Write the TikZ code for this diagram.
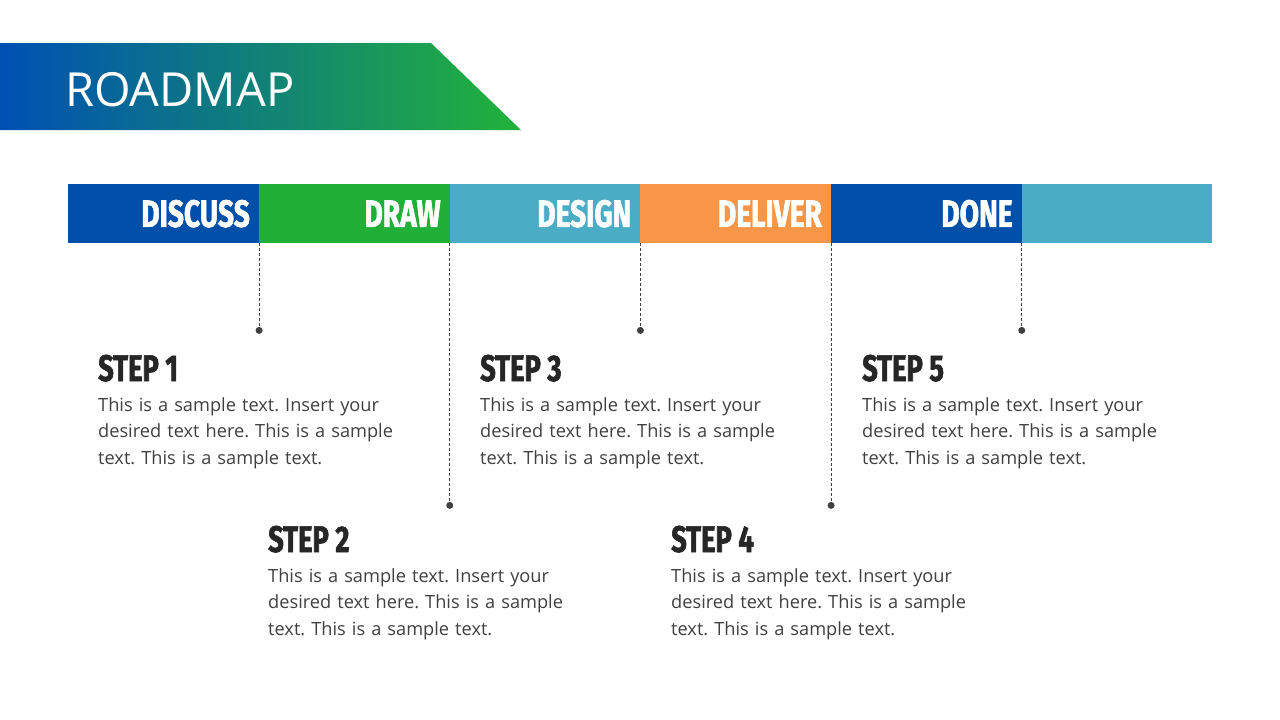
\documentclass[tikz,border=0pt]{standalone}
\usepackage{fontspec}
\setmainfont{Open Sans}
\newfontfamily\headfont[FakeStretch=0.74,FakeBold=1.6]{Fira Sans}
\usetikzlibrary{positioning}
\frenchspacing

\definecolor{roadblue}{HTML}{0050AA}
\definecolor{roadgreen}{HTML}{20B038}
\definecolor{roadcyan}{HTML}{4BACC6}
\definecolor{roadorange}{HTML}{F79646}
\definecolor{titleblue}{HTML}{0050B4}
\definecolor{titlegreen}{HTML}{22B33A}
\definecolor{headgray}{HTML}{262626}
\definecolor{textgray}{HTML}{404040}

\tikzset{
  segment/.style={draw=none, minimum width=190.67pt, minimum height=59pt, inner sep=0pt, anchor=north west},
  seglabel/.style={text=white, font=\headfont\bfseries\fontsize{38}{38}\selectfont, anchor=east, inner sep=0pt},
  guide/.style={draw=textgray, dash pattern=on 3pt off 2pt, line width=0.8pt},
  pin/.style={circle, fill=textgray, inner sep=0pt, minimum size=7pt},
  steptitle/.style={font=\headfont\bfseries\fontsize{37}{37}\selectfont, text=headgray, anchor=base west, inner sep=0pt},
  stepbody/.style={font=\fontsize{18.2}{26.5}\selectfont, text=textgray, align=left, text width=340pt, anchor=north west, inner sep=0pt},
}

\begin{document}
\begin{tikzpicture}[x=1pt,y=-1pt]
\useasboundingbox[fill=white] (0,0) rectangle (1280,720);
% Title banner
\shade[left color=titleblue, right color=titlegreen] (0,43) -- (431,43) -- (521,130) -- (0,130) -- cycle;
\node[text=white, font=\fontsize{47}{47}\selectfont, anchor=base west, inner sep=0pt] (title) at (65,106) {ROADMAP};
% Timeline bar
\foreach \i/\col in {1/roadblue,2/roadgreen,3/roadcyan,4/roadorange,5/roadblue,6/roadcyan}
  \node[segment, fill=\col] (seg\i) at ({68+190.67*(\i-1)},184) {};
\foreach \i/\lab in {1/DISCUSS,2/DRAW,3/DESIGN,4/DELIVER,5/DONE}
  \node[seglabel] (lab\i) at ([xshift=-9pt]seg\i.east) {\lab};
% Guides and pins
\foreach \i/\drop in {1/87,2/262,3/87,4/262,5/87} {
  \node[pin] (dot\i) at ([yshift=-\drop pt]seg\i.south east) {};
  \draw[guide] (seg\i.south east) -- (dot\i.center);
}
% Steps
\node[steptitle] (step1) at (98,381) {STEP 1};
\node[steptitle] (step2) at (268,552) {STEP 2};
\node[steptitle] (step3) at (480,381) {STEP 3};
\node[steptitle] (step4) at (671,552) {STEP 4};
\node[steptitle] (step5) at (862,381) {STEP 5};
\foreach \i in {1,...,5}
  \node[stepbody] (body\i) at ([yshift=-16pt]step\i.base west) {This is a sample text. Insert your\\desired text here. This is a sample\\text. This is a sample text.};
\end{tikzpicture}
\end{document}
